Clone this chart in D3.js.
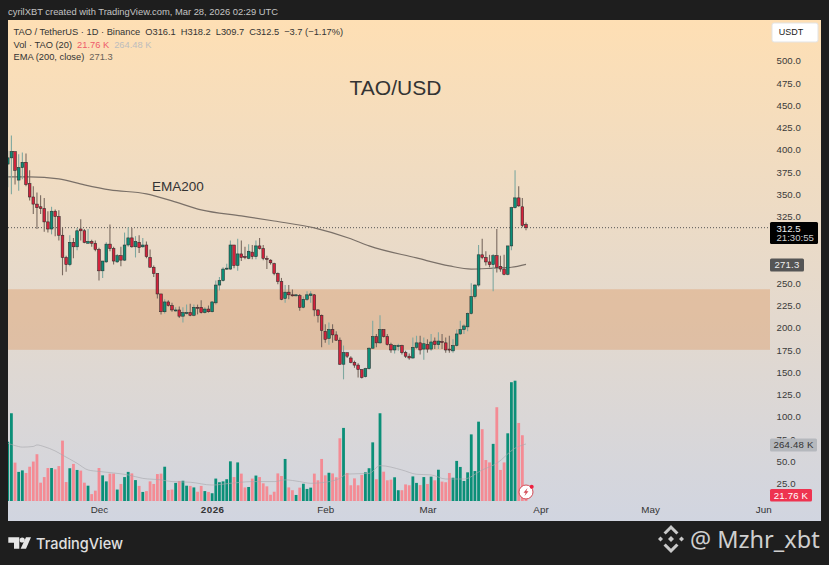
<!DOCTYPE html>
<html><head><meta charset="utf-8">
<style>html,body{margin:0;padding:0;background:#1e1e1e;overflow:hidden}svg{display:block}text{font-family:"Liberation Sans",Arial,sans-serif}</style>
<script src="https://cdn.jsdelivr.net/npm/d3@7"></script></head><body>
<script>
const firstDay=new Date(Date.UTC(2025,10,6)), lastDay=new Date(Date.UTC(2026,2,28));
const opens=[384,391,398,366,380,386,362,347,339,336,
334,319,311,331,325,304,279,271,296,291,
311,309,295,297,295,288,264,274,294,289,
274,281,276,293,301,291,296,291,293,279,
268,261,238,218,229,225,219,220,213,216,
217,214,223,223,217,221,218,228,248,253,
266,266,293,270,283,280,278,285,280,292,
289,278,276,272,261,252,233,240,237,236,
236,223,232,236,237,220,214,196,188,198,
192,186,159,172,166,161,158,153,145,154,
177,190,183,198,190,181,175,179.5,180,172,
168,166,178,183,176,181,176,185,181,184.5,
183,176,174,180,193,198,201,216,235,248,
282,279,274,271,281,269,266,260,292,335,
346,336,316.1];
const highs=[399,416,398,395,397,396,377,359,352,349,
346,331,336,333,332,313,281,304,301,312,
322,311,311,299,298,290,275,296,316,291,
283,291,307,313,312,303,304,301,297,288,
270,261,238,232,231,228,223,224,223,226,
227,226,226,231,223,225,230,253,257,268,
272,298,293,300,298,291,294,293,298,301,
293,281,277,273,262,256,248,248,243,238,
238,235,241,241,238,221,215,204,206,204,
196,189,180,172,168,163,160,153,155,178,
208,193,214,198,193,183,181,182,181,174,
171,189,191,191,189,187,193,189,195,193,
189,191,187,198,208,204,217,250,249,293,
300,286,282,283,311,281,282,292,336,377,
359,346,318.2];
const lows=[358,350,361,354,367,359,343,328,311,328,
308,307,305,303,298,259,263,269,278,287,
298,295,295,291,286,253,256,273,286,271,
273,269,275,291,290,279,284,290,278,268,
257,233,215,216,224,218,218,211,206,215,
213,213,215,216,216,217,217,226,242,252,
265,265,267,264,275,277,277,277,277,288,
276,266,271,259,249,231,228,232,235,235,
219,222,230,228,213,206,178,183,181,183,
185,158,142,166,160,155,144,143,144,153,
176,178,182,189,180,172,171,174,170,166,
164,165,176,170,164,172,174,176,176,176,
172,172,172,179,192,193,196,215,233,246,
277,270,268,241,262,263,259,259,287,334,
336,313,309.7];
const closes=[391,398,377,380,386,361,347,339,335,334,
319,311,331,325,304,279,271,296,291,309,
309,296,297,295,288,264,275,294,289,275,
281,276,293,301,291,297,290,293,280,268,
261,238,218,229,225,220,220,213,217,217,
214,223,222,217,221,218,229,248,253,266,
267,293,270,283,279,279.5,286,280,292,289,
278,277,273,261,252,232,240,237,236.5,237,
223,232,237,238,220,214,197,187,198,192,
186,159,172,168,161,158,153,144,154,177,
190,183,198,190,181,175,180,180,172,168,
166,178,183,175,182,176,184,181,185,184,
175,175,180,193,198,202,216,235,248,282,
279,274,271,281,268,266,260,292,335,346,
337,315,312.5];
const volumes=[275,407,178,135,142,130,159,183,217,85,
111,153,153,147,162,280,88,152,172,144,
141,85,71,32,48,153,119,91,127,127,
53,79,111,135,128,97,70,42,46,91,
79,125,127,159,51,53,84,93,94,71,
70,63,43,70,46,42,36,104,87,91,
101,184,111,179,127,63,65,104,118,111,
82,68,29,43,128,116,195,63,50,28,
62,80,56,62,127,96,195,119,131,128,
110,291,339,130,73,105,73,121,133,152,
272,101,407,136,96,99,110,50,50,77,
73,114,84,74,111,79,113,96,145,90,
87,130,108,186,158,93,133,309,139,368,
333,190,179,265,435,144,179,314,551,558,
362,305,21.76];
const emaDay=[0,6,14,21,28,38,45,53,64,73,84,94,99,112,121,127,133,138,142];
const emaValue=[369.6,369.6,367.3,360.6,355,350.5,342.6,332.5,325.7,320,312.3,300,292,278.5,269.5,266,267,268,271.3];
const maDay=[0,2,4,7,8,10,13,15,19,22,25,29,33,37,42,45,50,56,61,67,73,76,80,83,87,91,93,99,102,108,112,116,120,125,130,134,139,142];
const maValue=[268,257,250,253,260,252,232,213,175,144,137,130,121,105,98,90,87,74,82,90,90,98,90,82,87,105,125,128,164,144,124,121,102,102,144,175,245,264.48];
const priceTicks=[500,475,450,425,400,375,350,325,250,225,200,175,150,125,100,75,50,25];
const timeTicks=[["Dec",2025,11],["2026",2026,0],["Feb",2026,1],["Mar",2026,2],["Apr",2026,3],["May",2026,4],["Jun",2026,5]];
const days=d3.utcDay.range(firstDay,d3.utcDay.offset(lastDay,1));
const W=829,H=565;
const svg=d3.select("body").append("svg").attr("width",W).attr("height",H).style("background","#1e1e1e");
const defs=svg.append("defs");
const g=defs.append("linearGradient").attr("id","bg").attr("x1",0).attr("x2",0).attr("y1",0).attr("y2",1);
g.append("stop").attr("offset","0").attr("stop-color","#fedfb4");
g.append("stop").attr("offset","1").attr("stop-color","#d1d5e0");
defs.append("clipPath").attr("id","plot").append("rect").attr("x",8).attr("y",20).attr("width",762).attr("height",501);
svg.append("rect").attr("x",8).attr("y",20).attr("width",813).attr("height",501).attr("fill","url(#bg)");
const x=d3.scaleUtc().domain([firstDay,lastDay]).range([7.75,526]);
const y=d3.scaleLinear().domain([500,25]).range([60.9,483.4]);
const v=d3.scaleLinear().domain([0,558]).range([501,380.7]);
const plot=svg.append("g").attr("clip-path","url(#plot)");
plot.append("rect").attr("x",8).attr("width",762).attr("y",y(243.3)).attr("height",y(175.2)-y(243.3)).attr("fill","#dc8f55").attr("opacity",.36);
const green="#0b8f78",red="#d3233c",up=i=>closes[i]>=opens[i];
plot.append("g").selectAll("rect").data(volumes).join("rect")
 .attr("x",(d,i)=>x(days[i])-1.4).attr("width",2.8).attr("y",d=>v(d)).attr("height",d=>501-v(d))
 .attr("fill",(d,i)=>up(i)?green:"#f48b94");
const maLine=d3.line().x((d,i)=>x(days[maDay[i]])).y(d=>v(d)).curve(d3.curveMonotoneX);
plot.append("path").attr("d",maLine(maValue)).attr("fill","none").attr("stroke","#a9a9ad").attr("stroke-width",.8).attr("opacity",.8);
plot.append("line").attr("x1",8).attr("x2",770).attr("y1",y(312.5)).attr("y2",y(312.5)).attr("stroke","#555").attr("stroke-dasharray","1 2").attr("stroke-width",1);
const emaLine=d3.line().x((d,i)=>x(days[emaDay[i]])).y(d=>y(d)).curve(d3.curveMonotoneX);
plot.append("path").attr("d",emaLine(emaValue)).attr("fill","none").attr("stroke","#7a7068").attr("stroke-width",1.2);
const c=plot.append("g").selectAll("g").data(days).join("g");
c.append("line").attr("x1",d=>x(d)).attr("x2",d=>x(d)).attr("y1",(d,i)=>y(highs[i])).attr("y2",(d,i)=>y(lows[i]))
 .attr("stroke",(d,i)=>up(i)?"#7fa8a0":"#7a6a60").attr("stroke-width",1.1);
c.append("rect").attr("x",d=>x(d)-1.35).attr("width",2.7)
 .attr("y",(d,i)=>y(Math.max(opens[i],closes[i]))).attr("height",(d,i)=>Math.max(1,Math.abs(y(opens[i])-y(closes[i]))))
 .attr("fill",(d,i)=>up(i)?green:red).attr("stroke","#2a2a2a").attr("stroke-width",.55);
const yAxis=d3.axisRight(y).tickValues(priceTicks).tickFormat(d3.format(".1f")).tickSize(0).tickPadding(0);
const ya=svg.append("g").attr("transform","translate(776.5,0)").call(yAxis);
ya.select(".domain").remove();ya.selectAll("text").attr("font-size",9.6).attr("fill","#3a3a3a").attr("letter-spacing",.1);
const xAxis=d3.axisBottom(x).tickValues(timeTicks.map(t=>new Date(Date.UTC(t[1],t[2],1)))).tickFormat((d,i)=>timeTicks[i][0]).tickSize(0).tickPadding(0);
const xa=svg.append("g").attr("transform","translate(0,506)").call(xAxis);
xa.select(".domain").remove();xa.selectAll("text").attr("font-size",9.8).attr("fill","#333").attr("font-weight",(d,i)=>i==1?700:400).attr("letter-spacing",(d,i)=>i==1?.5:.1);
function tag(x0,y0,w,h,fill,txt,col){svg.append("rect").attr("x",x0).attr("y",y0).attr("width",w).attr("height",h).attr("rx",1.5).attr("fill",fill);
 if(txt)svg.append("text").attr("x",x0+w/2).attr("y",y0+h/2+3.4).attr("text-anchor","middle").attr("font-size",9.6).attr("fill",col).attr("letter-spacing",.2).text(txt);}
tag(770,222,48,22,"#000","","#fff");
svg.append("text").attr("x",776.5).attr("y",231.6).attr("font-size",9.6).attr("fill","#eee").text("312.5");
svg.append("text").attr("x",776.5).attr("y",241.4).attr("font-size",9.6).attr("fill","#ccc").text("21:30:55");
tag(770,258.5,34,13,"#555","271.3","#eee");
tag(770,438.5,47,13,"#b5b8bd","264.48 K","#333");
tag(770,489,42,12.5,"#ee3350","21.76 K","#fff");
svg.append("rect").attr("x",772).attr("y",23).attr("width",46).attr("height",19).attr("rx",2).attr("fill","#fff").attr("stroke","#e3e3e3");
svg.append("text").attr("x",791).attr("y",35).attr("text-anchor","middle").attr("font-size",9).attr("fill","#222").text("USDT");
svg.append("text").attr("x",8).attr("y",14.5).attr("font-size",9.4).attr("fill","#c4c4c4").text("cyrilXBT created with TradingView.com, Mar 28, 2026 02:29 UTC");
const lg=(yy,parts)=>{const t=svg.append("text").attr("x",13.5).attr("y",yy).attr("font-size",9.3);parts.forEach(p=>t.append("tspan").attr("fill",p[1]).attr("dx",p[2]||0).text(p[0]));};
lg(34.5,[["TAO / TetherUS · 1D · Binance","#333"],["O316.1","#333",5],["H318.2","#333",5],["L309.7","#333",5],["C312.5","#333",5],["−3.7 (−1.17%)","#333",5]]);
lg(47.5,[["Vol · TAO (20)","#333"],["21.76 K","#ee5a6a",5],["264.48 K","#bdbdbd",5]]);
lg(59.5,[["EMA (200, close)","#333"],["271.3","#6a6258",5]]);
svg.append("text").attr("x",395.5).attr("y",95).attr("text-anchor","middle").attr("font-size",21).attr("fill","#333").text("TAO/USD");
svg.append("text").attr("x",152).attr("y",191).attr("font-size",13.5).attr("fill","#333").text("EMA200");
const b=svg.append("g").attr("transform","translate(526,492)");
b.append("circle").attr("r",7).attr("fill","#fff").attr("stroke","#d24a55").attr("stroke-width",1);
b.append("path").attr("d","M1.5,-4 L-2.5,0.8 L-0.3,0.8 L-1.5,4 L2.5,-0.8 L0.3,-0.8Z").attr("fill","#d24a55");
b.append("circle").attr("cx",5.7).attr("cy",-5.3).attr("r",2).attr("fill","#ee2040");
svg.append("path").attr("d","M8.3,537.3 H19.3 V548.7 H14 V542.8 H8.3Z M26,537.3 H31 L26,548.7 H20.6Z").attr("fill","#e6e6e6");
svg.append("circle").attr("cx",22.2).attr("cy",540).attr("r",2.6).attr("fill","#e6e6e6");
svg.append("text").attr("x",36).attr("y",549).attr("font-size",15).attr("font-weight",500).attr("fill","#e0e0e0").style("font-family","Inter").attr("textLength",87).attr("lengthAdjust","spacingAndGlyphs").text("TradingView");
const bn=svg.append("g").attr("transform","translate(671,539)").attr("fill","#c9c9c9");
[[0,0,3],[-10.5,0,2.5],[10.5,0,2.5]].forEach(d=>bn.append("path").attr("d",`M${d[0]-d[2]},${d[1]} L${d[0]},${d[1]-d[2]} L${d[0]+d[2]},${d[1]} L${d[0]},${d[1]+d[2]}Z`));
bn.append("path").attr("d","M0,-14 L7.5,-6.5 L5.3,-4.4 L0,-9.7 L-5.3,-4.4 L-7.5,-6.5Z");
bn.append("path").attr("d","M0,14 L7.5,6.5 L5.3,4.4 L0,9.7 L-5.3,4.4 L-7.5,6.5Z");
svg.append("text").attr("x",690).attr("y",548).attr("font-size",23.5).attr("fill","#cfcfcf").style("font-family","'Noto Sans'").text("@ Mzhr_xbt");
</script></body></html>
